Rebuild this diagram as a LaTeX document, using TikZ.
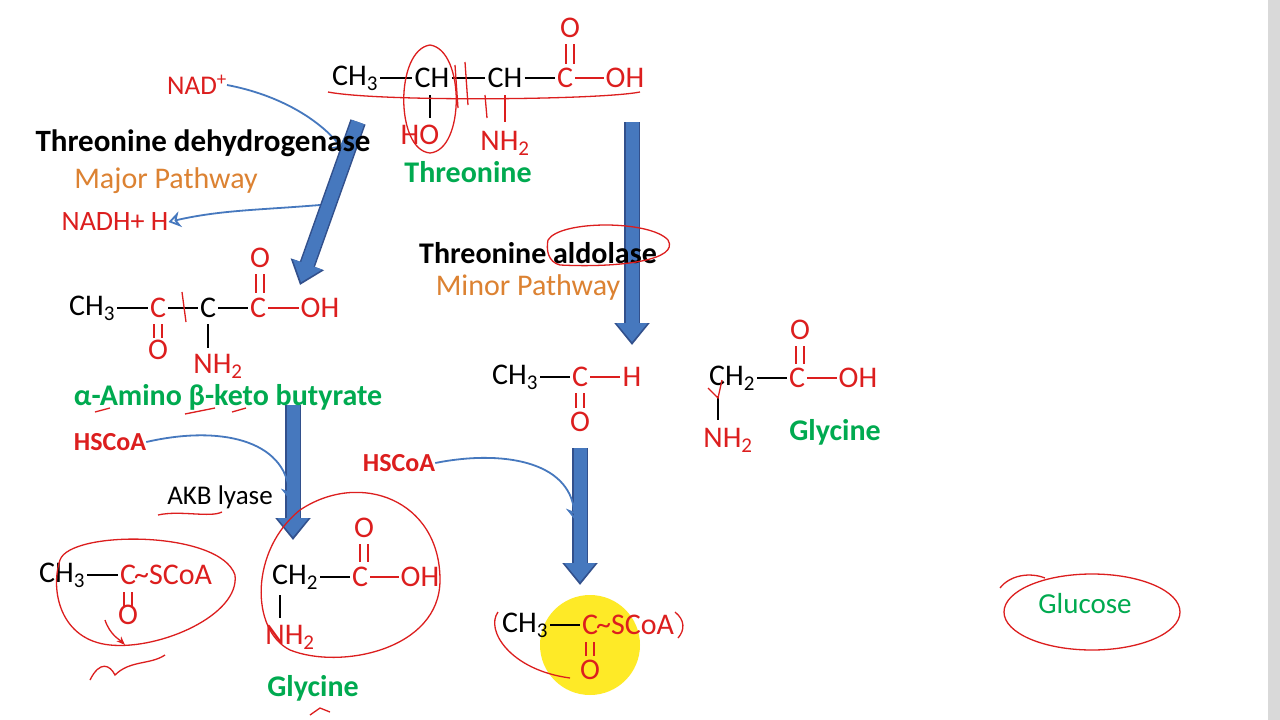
\documentclass[tikz,border=0pt]{standalone}
\usepackage{fontspec}
\setmainfont{Carlito}
\usetikzlibrary{arrows.meta,calc}
\definecolor{chred}{RGB}{220,30,30}
\definecolor{gr}{RGB}{0,170,80}
\definecolor{orng}{RGB}{220,130,50}
\definecolor{bl}{RGB}{70,120,190}
\definecolor{bld}{RGB}{50,80,140}
\tikzset{
 atm/.style={font=\fontsize{30}{32}\selectfont,inner sep=0pt},
 atmr/.style={atm,text=chred},
 lbl/.style={font=\fontsize{30}{32}\selectfont,inner sep=0pt},
 bold/.style={font=\fontsize{30}{32}\selectfont\bfseries,inner sep=0pt},
 thin/.style={bl,line width=1.8pt,-{Stealth[length=12pt,width=16pt,open]}},
 bond/.style={chred,line width=1.3pt},
 bk/.style={black,line width=1.3pt},
 hand/.style={chred,line width=1.3pt}
}
\begin{document}
\begin{tikzpicture}[x=1pt,y=-1pt]
\useasboundingbox[fill=white] (0,0) rectangle (1280,720);
\fill[white!85!black] (1268,0) rectangle (1280,720);
% fat arrows
\foreach \a/\b in {{358,122}/{300,285},{632,122}/{632,345},{293,405}/{293,540},{580,448}/{580,585}}{
 \draw[bld,line width=16pt,-{Triangle[length=22pt,width=34pt]}] (\a) -- (\b);
 \draw[bl,line width=13pt,shorten >=3pt,-{Triangle[length=19pt,width=30pt]}] (\a) -- (\b);}
% Threonine
\node[atm] (t1) at (355,78) {CH\textsubscript{3}};
\node[atm] (t2) at (432,78) {CH};
\node[atm] (t3) at (505,78) {CH};
\node[atmr] (t4) at (565,78) {C};
\node[atmr] (t5) at (625,78) {OH};
\draw[bk] ($(t1.east)+(2,0)$) -- ($(t2.west)+(-2,0)$);
\draw[bk] ($(t2.east)+(2,0)$) -- ($(t3.west)+(-2,0)$);
\draw[bk] ($(t3.east)+(2,0)$) -- ($(t4.west)+(-2,0)$);
\draw[bond] ($(t4.east)+(2,0)$) -- ($(t5.west)+(-2,0)$);
\node[atmr] (t1o) at (570,28) {O};
\draw[bond] (566,44) -- (566,64) (574,44) -- (574,64);
\draw[bk] (430,95) -- (430,118);
\node[atmr] (t1ho) at (420,135) {HO};
\draw[bond] (505,95) -- (505,122);
\node[atmr] (t1n) at (505,143) {NH\textsubscript{2}};
\node[bold,text=gr] (thr) at (468,172) {Threonine};
\draw[hand] (430,45) .. controls (395,50) and (395,150) .. (430,153) .. controls (465,150) and (465,50) .. (430,45);
\draw[hand] (465,62) -- (468,105) (455,65) -- (458,108);
\draw[hand] (328,92) .. controls (380,102) and (600,100) .. (640,92);
\draw[hand] (485,95) -- (487,118);
% left branch
\node[atm,text=chred,font=\fontsize{27}{28}\selectfont] (nad) at (197,85) {NAD\textsuperscript{+}};
\draw[thin] (nad.east) .. controls (280,95) and (320,120) .. (345,152);
\node[bold,font=\fontsize{31}{32}\selectfont\bfseries] (tdh) at (203,143) {Threonine dehydrogenase};
\node[lbl,text=orng] (maj) at (166,181) {Major Pathway};
\node[atm,text=chred,font=\fontsize{28}{28}\selectfont] (nadh) at (115,222) {NADH+ H};
\draw[thin] (320,205) .. controls (260,210) and (220,210) .. (nadh.east);
% AKB
\node[atm] (k1) at (92,308) {CH\textsubscript{3}};
\node[atmr] (k2) at (158,308) {C};
\node[atm] (k3) at (208,308) {C};
\node[atmr] (k4) at (258,308) {C};
\node[atmr] (k5) at (320,308) {OH};
\draw[bk] ($(k1.east)+(2,0)$) -- ($(k2.west)+(-2,0)$);
\draw[bk] ($(k2.east)+(2,0)$) -- ($(k3.west)+(-2,0)$);
\draw[bk] ($(k3.east)+(2,0)$) -- ($(k4.west)+(-2,0)$);
\draw[bond] ($(k4.east)+(2,0)$) -- ($(k5.west)+(-2,0)$);
\node[atmr] (k1o) at (260,258) {O};
\draw[bond] (256,274) -- (256,293) (264,274) -- (264,293);
\draw[bond] (154,324) -- (154,338) (162,324) -- (162,338);
\node[atmr] (k1o2) at (158,350) {O};
\draw[bk] (208,324) -- (208,348);
\node[atmr] (k1n) at (218,366) {NH\textsubscript{2}};
\draw[hand] (182,292) -- (186,322);
\node[bold,text=gr] (akb) at (228,397) {α-Amino β-keto butyrate};
\draw[hand] (95,412) -- (110,408) (185,414) -- (215,408) (232,412) -- (246,408);
\node[bold,text=chred,font=\fontsize{26}{28}\selectfont\bfseries] (hs1) at (110,442) {HSCoA};
\draw[thin] (hs1.east) .. controls (220,425) and (285,440) .. (290,500);
\node[lbl,font=\fontsize{27}{28}\selectfont] (akbl) at (220,497) {AKB lyase};
\draw[hand] (158,515) .. controls (180,510) and (210,518) .. (222,512);
% acetyl CoA left
\node[atm] (a1) at (62,575) {CH\textsubscript{3}};
\node[atmr] (a2) at (128,575) {C};
\node[atmr,anchor=west] (a3) at (134,575) {\textasciitilde SCoA};
\draw[bk] ($(a1.east)+(2,0)$) -- ($(a2.west)+(-2,0)$);
\draw[bond] (124,592) -- (124,606) (132,592) -- (132,606);
\node[atmr] (a1o) at (128,615) {O};
\draw[hand] (60,560) .. controls (70,530) and (220,530) .. (235,575) .. controls (240,615) and (160,650) .. (110,645) .. controls (60,640) and (50,590) .. (60,560);
\draw[hand,-{Stealth}] (105,620) .. controls (110,635) and (120,640) .. (125,645);
\draw[hand] (90,680) .. controls (100,660) and (110,665) .. (115,675) .. controls (130,660) and (150,665) .. (165,655);
% Glycine left
\node[atm] (g1) at (295,577) {CH\textsubscript{2}};
\node[atmr] (g2) at (360,577) {C};
\node[atmr] (g3) at (420,577) {OH};
\draw[bk] ($(g1.east)+(2,0)$) -- ($(g2.west)+(-2,0)$);
\draw[bond] ($(g2.east)+(2,0)$) -- ($(g3.west)+(-2,0)$);
\node[atmr] (g1o) at (364,528) {O};
\draw[bond] (360,544) -- (360,562) (368,544) -- (368,562);
\draw[bk] (280,595) -- (280,618);
\node[atmr] (g1n) at (290,637) {NH\textsubscript{2}};
\draw[hand] (300,510) .. controls (360,470) and (440,500) .. (440,580) .. controls (440,650) and (340,670) .. (290,650) .. controls (250,630) and (250,550) .. (300,510);
\node[bold,text=gr] (gly1) at (313,688) {Glycine};
\draw[hand] (310,715) -- (320,708) -- (330,712);
% aldolase branch
\node[bold] (ald) at (538,253) {Threonine aldolase};
\node[lbl,text=orng] (min) at (528,287) {Minor Pathway};
\draw[hand] (548,240) .. controls (560,220) and (650,220) .. (668,240) .. controls (680,260) and (620,268) .. (560,265) .. controls (548,262) and (546,250) .. (548,240);
\node[atm] (c1) at (515,377) {CH\textsubscript{3}};
\node[atmr] (c2) at (580,377) {C};
\node[atmr] (c3) at (632,377) {H};
\draw[bk] ($(c1.east)+(2,0)$) -- ($(c2.west)+(-2,0)$);
\draw[bond] ($(c2.east)+(2,0)$) -- ($(c3.west)+(-2,0)$);
\draw[bond] (576,393) -- (576,408) (584,393) -- (584,408);
\node[atmr] (aco) at (580,422) {O};
\node[atm] (e1) at (732,378) {CH\textsubscript{2}};
\node[atmr] (e2) at (797,378) {C};
\node[atmr] (e3) at (858,378) {OH};
\draw[bk] ($(e1.east)+(2,0)$) -- ($(e2.west)+(-2,0)$);
\draw[bond] ($(e2.east)+(2,0)$) -- ($(e3.west)+(-2,0)$);
\node[atmr] (g2o) at (800,330) {O};
\draw[bond] (796,346) -- (796,364) (804,346) -- (804,364);
\draw[bk] (718,396) -- (718,420);
\node[atmr] (g2n) at (728,440) {NH\textsubscript{2}};
\draw[hand] (708,388) -- (718,398) -- (722,380);
\node[bold,text=gr] (gly2) at (835,432) {Glycine};
\node[bold,text=chred,font=\fontsize{26}{28}\selectfont\bfseries] (hs2) at (399,463) {HSCoA};
\draw[thin] (hs2.east) .. controls (500,450) and (570,460) .. (575,520);
% acetyl CoA right
\fill[yellow!90!orange,opacity=0.85] (590,645) circle (50);
\node[atm] (f1) at (525,625) {CH\textsubscript{3}};
\node[atmr] (f2) at (590,625) {C};
\node[atmr,anchor=west] (f3) at (596,625) {\textasciitilde SCoA};
\draw[bk] ($(f1.east)+(2,0)$) -- ($(f2.west)+(-2,0)$);
\draw[bond] (586,642) -- (586,656) (594,642) -- (594,656);
\node[atmr] (a2o) at (590,670) {O};
\draw[hand] (498,612) .. controls (485,630) and (510,670) .. (570,678);
\draw[hand] (675,612) .. controls (685,620) and (685,630) .. (678,638);
% glucose
\node[lbl,text=gr,font=\fontsize{29}{30}\selectfont] (glu) at (1085,604) {Glucose};
\draw[hand] (1092,612) ellipse (88 and 38);
\draw[hand] (1000,588) .. controls (1010,575) and (1030,572) .. (1045,578);
\end{tikzpicture}
\end{document}
